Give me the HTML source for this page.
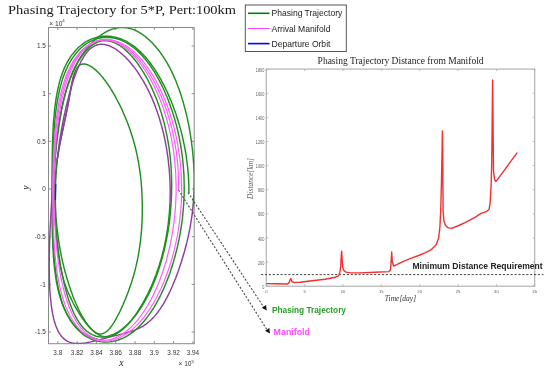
<!DOCTYPE html>
<html><head><meta charset="utf-8"><title>Phasing Trajectory</title>
<style>html,body{margin:0;padding:0;background:#fff;width:550px;height:374px;overflow:hidden}svg{display:block}</style>
</head><body>
<svg width="550" height="374" viewBox="0 0 550 374">
<rect width="550" height="374" fill="#fff"/>
<text x="8" y="13.5" font-family="Liberation Serif, serif" font-size="13.3" fill="#1a1a1a" textLength="228" lengthAdjust="spacingAndGlyphs">Phasing Trajectory for 5*P, Pert:100km</text>
<rect x="48.5" y="27.5" width="145.7" height="316.2" fill="none" stroke="#8a8a8a" stroke-width="1"/>
<path d="M57.8 343.7v-2.5M57.8 27.5v2.5M77.1 343.7v-2.5M77.1 27.5v2.5M96.4 343.7v-2.5M96.4 27.5v2.5M115.7 343.7v-2.5M115.7 27.5v2.5M135.0 343.7v-2.5M135.0 27.5v2.5M154.3 343.7v-2.5M154.3 27.5v2.5M173.6 343.7v-2.5M173.6 27.5v2.5M192.9 343.7v-2.5M192.9 27.5v2.5M48.5 46.0h2.5M194.2 46.0h-2.5M48.5 93.7h2.5M194.2 93.7h-2.5M48.5 141.3h2.5M194.2 141.3h-2.5M48.5 189.0h2.5M194.2 189.0h-2.5M48.5 236.7h2.5M194.2 236.7h-2.5M48.5 284.4h2.5M194.2 284.4h-2.5M48.5 332.0h2.5M194.2 332.0h-2.5" stroke="#8a8a8a" stroke-width="1" fill="none"/>
<g font-family="Liberation Sans, sans-serif" font-size="6.4" fill="#333"><text x="57.8" y="354.6" text-anchor="middle">3.8</text><text x="77.1" y="354.6" text-anchor="middle">3.82</text><text x="96.4" y="354.6" text-anchor="middle">3.84</text><text x="115.7" y="354.6" text-anchor="middle">3.86</text><text x="135.0" y="354.6" text-anchor="middle">3.88</text><text x="154.3" y="354.6" text-anchor="middle">3.9</text><text x="173.6" y="354.6" text-anchor="middle">3.92</text><text x="192.9" y="354.6" text-anchor="middle">3.94</text><text x="45.8" y="48.4" text-anchor="end">1.5</text><text x="45.8" y="96.1" text-anchor="end">1</text><text x="45.8" y="143.7" text-anchor="end">0.5</text><text x="45.8" y="191.4" text-anchor="end">0</text><text x="45.8" y="239.1" text-anchor="end">-0.5</text><text x="45.8" y="286.8" text-anchor="end">-1</text><text x="45.8" y="334.4" text-anchor="end">-1.5</text></g>
<g font-family="Liberation Sans, sans-serif" fill="#333"><text x="49.3" y="25.6" font-size="6.6">× 10</text><text x="62.2" y="22.4" font-size="4.4">4</text><text x="178.5" y="366" font-size="6.6">× 10</text><text x="191.4" y="362.8" font-size="4.4">5</text></g>
<text x="121.5" y="365.5" font-family="Liberation Serif, serif" font-style="italic" font-size="9.8" fill="#222" text-anchor="middle">x</text>
<text transform="translate(29.2 187.5) rotate(-90)" font-family="Liberation Serif, serif" font-style="italic" font-size="9.8" fill="#222" text-anchor="middle">y</text>
<clipPath id="lclip"><rect x="48.5" y="27.5" width="145.7" height="316.2"/></clipPath>
<g fill="none" stroke-linejoin="round" stroke-linecap="round" clip-path="url(#lclip)">
<path d="M54.5 164.9 54.8 161.9 55.1 158.8 55.4 155.8 55.7 152.7 56.0 149.7 56.3 146.7 56.7 143.6 57.0 140.6 57.4 137.7 57.8 134.7 58.2 131.8 58.6 128.9 59.0 126.0 59.4 123.1 59.8 120.3 60.3 117.5 60.8 114.8 61.2 112.1 61.7 109.4 62.2 106.8 62.8 104.3 63.3 101.8 63.9 99.3 64.5 96.9 65.1 94.5 65.7 92.2 66.3 89.9 67.0 87.6 67.6 85.5 68.3 83.3 69.1 81.2 69.8 79.2 70.5 77.2 71.3 75.2 72.1 73.3 72.9 71.4 73.8 69.6 74.7 67.7 75.5 66.0 76.5 64.2 77.4 62.5 78.3 60.9 79.3 59.2 80.3 57.6 81.4 56.0 82.4 54.5 83.5 52.9 84.6 51.5 85.7 50.0 86.8 48.6 88.0 47.2 89.2 45.8 90.4 44.5 91.6 43.2 92.8 41.9 94.1 40.7 95.4 39.5 96.7 38.4 98.0 37.3 99.3 36.3 100.6 35.3 102.0 34.3 103.3 33.5 104.7 32.6 106.1 31.8 107.4 31.1 108.8 30.5 110.2 29.9 111.6 29.3 113.1 28.9 114.5 28.5 115.9 28.1 117.3 27.9 118.7 27.7 120.1 27.5 121.6 27.5 123.0 27.5 124.4 27.5 125.8 27.7 127.2 27.9 128.6 28.2 130.0 28.5 131.4 28.9 132.8 29.4 134.2 29.9 135.5 30.5 136.9 31.2 138.3 31.9 139.6 32.7 141.0 33.5 142.3 34.4 143.6 35.3 144.9 36.3 146.2 37.4 147.5 38.5 148.8 39.6 150.1 40.8 151.4 42.0 152.6 43.3 153.9 44.7 155.1 46.0 156.3 47.5 157.6 49.0 158.8 50.5 160.0 52.1 161.2 53.7 162.3 55.4 163.5 57.1 164.6 58.9 165.8 60.8 166.9 62.7 168.0 64.6 169.1 66.7 170.2 68.7 171.3 70.9 172.4 73.1 173.4 75.3 174.4 77.6 175.5 80.0 176.5 82.5 177.4 85.0 178.4 87.5 179.3 90.1 180.3 92.8 181.2 95.6 182.0 98.4 182.9 101.2 183.7 104.1 184.5 107.1 185.3 110.1 186.1 113.1 186.8 116.2 187.5 119.3 188.2 122.5 188.8 125.7 189.4 129.0 190.0 132.2 190.5 135.5 191.0 138.8 191.5 142.1 191.9 145.5 192.3 148.8 192.7 152.2 193.0 155.5 193.3 158.9 193.5 162.3 193.8 165.6 193.9 169.0 194.1 172.3 194.2 175.6 194.2 178.9 194.2 182.3 194.2 185.5 194.1 188.8 194.0 192.1 193.8 195.3 193.7 198.5 193.4 201.7 193.2 204.9" stroke="#1f901f" stroke-width="1.45"/>
<path d="M193.2 204.9 192.8 208.1 192.5 211.4 192.1 214.6 191.6 217.8 191.1 221.0 190.6 224.1 190.1 227.3 189.5 230.4 188.9 233.5 188.2 236.6 187.5 239.7 186.8 242.7 186.0 245.8 185.2 248.8 184.4 251.8 183.5 254.8 182.6 257.7 181.7 260.7 180.8 263.6 179.8 266.5 178.9 269.3 177.9 272.1 176.8 274.9 175.8 277.7 174.7 280.4 173.6 283.0 172.5 285.7 171.4 288.2 170.3 290.7 169.1 293.2 167.9 295.6 166.8 297.9 165.5 300.1 164.3 302.3 163.1 304.4 161.8 306.4 160.6 308.4 159.3 310.2 158.0 312.0 156.7 313.7 155.3 315.4 154.0 316.9 152.6 318.3 151.2 319.7 149.8 321.0 148.4 322.2 147.0 323.4 145.5 324.4 144.1 325.4 142.6 326.3 141.0 327.2 139.5 328.0 138.0 328.7 136.4 329.4 134.8 330.1 133.2 330.7 131.5 331.2 129.9 331.8 128.2 332.3 126.5 332.8 124.8 333.2 123.1 333.7 121.3 334.2 119.6 334.6 117.8 335.1 116.0 335.5 114.2 335.9 112.4 336.4 110.6 336.8 108.7 337.3 106.9 337.8 105.0 338.2 103.2 338.7 101.4 339.2 99.5 339.7 97.7 340.1 95.8 340.6 94.0 341.0 92.2 341.5 90.4 341.9 88.6 342.2 86.9 342.6 85.1 342.9 83.4 343.1 81.7 343.3 80.1 343.4 78.5 343.5 76.9 343.5 75.3 343.4 73.8 343.2 72.3 343.0 70.9 342.6 69.5 342.2 68.1 341.6 66.8 340.9 65.6 340.1 64.3 339.2 63.2 338.1 62.1 337.0 61.0 335.7 60.0 334.3 59.0 332.7 58.1 331.1 57.3 329.3 56.5 327.4 55.7 325.4 55.0 323.2 54.3 321.0 53.7 318.7 53.2 316.2 52.6 313.7 52.2 311.0 51.7 308.3 51.3 305.6 51.0 302.7 50.7 299.8 50.4 296.8 50.1 293.8 49.9 290.7 49.7 287.6 49.6 284.4 49.5 281.3 49.4 278.1 49.3 274.9 49.3 271.7 49.2 268.4 49.2 265.2 49.2 262.0 49.3 258.8 49.3 255.6 49.4 252.4 49.4 249.2 49.5 246.0 49.6 242.8 49.7 239.6 49.8 236.5 50.0 233.4 50.1 230.2 50.2 227.1 50.4 224.0 50.6 220.9 50.7 217.8 50.9 214.7 51.1 211.6 51.2 208.6 51.4 205.5 51.6 202.4 51.8 199.3 52.0 196.2 52.2 193.1 52.5 190.0 52.7 186.9 52.9 183.8 53.2 180.7 53.4 177.5 53.7 174.4 53.9 171.2 54.2 168.1 54.5 164.9" stroke="#8e3f9e" stroke-width="1.45"/>
<path d="M52.6 187.1 52.6 190.9 52.6 194.7 52.6 198.6 52.6 202.4 52.6 206.2 52.6 210.0 52.7 213.8 52.7 217.6 52.8 221.4 52.8 225.1 52.9 228.9 53.0 232.6 53.1 236.2 53.2 239.9 53.4 243.5 53.6 247.1 53.8 250.6 54.0 254.1 54.2 257.6 54.5 261.0 54.8 264.4 55.2 267.8 55.6 271.0 56.0 274.3 56.4 277.5 56.9 280.6 57.5 283.7 58.0 286.7 58.7 289.6 59.3 292.5 60.1 295.3 60.8 298.1 61.6 300.8 62.5 303.4 63.4 305.9 64.4 308.4 65.4 310.7 66.5 313.1 67.6 315.3 68.7 317.4 69.9 319.5 71.2 321.5 72.5 323.3 73.9 325.1 75.2 326.9 76.7 328.5 78.2 330.0 79.7 331.5 81.2 332.8 82.8 334.1 84.4 335.3 86.1 336.4 87.7 337.3 89.5 338.2 91.2 339.0 92.9 339.7 94.7 340.4 96.5 340.9 98.3 341.3 100.1 341.6 101.9 341.9 103.7 342.0 105.6 342.1 107.4 342.1 109.2 341.9 111.1 341.7 112.9 341.4 114.7 341.0 116.5 340.6 118.3 340.0 120.1 339.3 121.9 338.6 123.7 337.8 125.5 336.9 127.2 335.9 128.9 334.8 130.7 333.7 132.4 332.4 134.0 331.1 135.7 329.7 137.3 328.2 139.0 326.7 140.6 325.1 142.1 323.4 143.7 321.6 145.2 319.8 146.7 317.9 148.2 315.9 149.7 313.8 151.2 311.7 152.6 309.5 154.0 307.3 155.4 304.9 156.7 302.6 158.1 300.1 159.4 297.6 160.7 295.0 161.9 292.4 163.2 289.7 164.4 287.0 165.6 284.1 166.7 281.3 167.9 278.4 169.0 275.4 170.1 272.4 171.1 269.3 172.1 266.2 173.1 263.0 174.0 259.8 175.0 256.5 175.8 253.2 176.7 249.9 177.5 246.5 178.2 243.1 179.0 239.7 179.6 236.2 180.3 232.7 180.9 229.1 181.4 225.6 181.9 222.0 182.4 218.4 182.8 214.7 183.1 211.1 183.4 207.4 183.7 203.7 183.9 200.1 184.1 196.4 184.2 192.7 184.2 189.0 184.2 185.3 184.1 181.6 184.0 177.9 183.9 174.2 183.6 170.5 183.4 166.9 183.0 163.2 182.7 159.6 182.2 156.0 181.8 152.4 181.2 148.9 180.7 145.4 180.0 141.9 179.4 138.4 178.7 135.0 177.9 131.6 177.1 128.2 176.3 124.9 175.4 121.7 174.5 118.4 173.5 115.3 172.5 112.1 171.5 109.0 170.4 106.0 169.3 103.0 168.2 100.1 167.1 97.3 165.9 94.5 164.7 91.7 163.5 89.0 162.2 86.4 161.0 83.8 159.7 81.3 158.3 78.8 157.0 76.5 155.7 74.1 154.3 71.9 152.9 69.7 151.5 67.6 150.1 65.5 148.6 63.5 147.2 61.6 145.7 59.8 144.2 58.0 142.7 56.3 141.2 54.6 139.7 53.1 138.1 51.6 136.6 50.1 135.0 48.8 133.4 47.5 131.8 46.3 130.2 45.1 128.6 44.1 127.0 43.1 125.3 42.2 123.7 41.4 122.0 40.6 120.4 39.9 118.7 39.3 117.0 38.8 115.3 38.4 113.6 38.0 111.9 37.7 110.2 37.5 108.5 37.4 106.8 37.4 105.1 37.4 103.3 37.5 101.6 37.7 99.9 38.0 98.3 38.4 96.6 38.9 94.9 39.4 93.2 40.1 91.6 40.8 90.0 41.6 88.3 42.5 86.8 43.5 85.2 44.6 83.6 45.7 82.1 47.0 80.6 48.3 79.2 49.7 77.8 51.3 76.4 52.8 75.0 54.5 73.7 56.3 72.4 58.1 71.2 60.0 70.0 62.1 68.8 64.1 67.7 66.3 66.7 68.6 65.6 70.9 64.7 73.3 63.7 75.8 62.8 78.3 62.0 80.9 61.2 83.6 60.4 86.4 59.7 89.2 59.1 92.1 58.5 95.1 57.9 98.1 57.3 101.2 56.8 104.3 56.4 107.5 55.9 110.7 55.6 114.0 55.2 117.4 54.9 120.7 54.6 124.2 54.3 127.7 54.1 131.2 53.9 134.7 53.7 138.3 53.5 141.9 53.4 145.6 53.2 149.3 53.1 153.0 53.0 156.7 52.9 160.4 52.8 164.2 52.8 168.0 52.7 171.8 52.7 175.6 52.6 179.4 52.6 183.3 52.6 187.1Z" stroke="#1f901f" stroke-width="1.45"/>
<path d="M54.3 186.4 54.3 190.0 54.3 193.6 54.4 197.2 54.5 200.8 54.6 204.4 54.8 208.0 54.9 211.6 55.1 215.2 55.3 218.7 55.6 222.3 55.8 225.8 56.1 229.3 56.4 232.8 56.8 236.3 57.1 239.8 57.5 243.2 57.9 246.6 58.3 250.0 58.7 253.3 59.2 256.6 59.7 259.9 60.2 263.2 60.7 266.4 61.3 269.5 61.9 272.6 62.5 275.7 63.1 278.7 63.7 281.6 64.4 284.5 65.1 287.4 65.8 290.2 66.6 292.9 67.3 295.5 68.1 298.1 68.9 300.7 69.8 303.1 70.7 305.5 71.6 307.8 72.5 310.0 73.4 312.2 74.4 314.2 75.4 316.2 76.5 318.1 77.5 319.9 78.6 321.7 79.7 323.3 80.8 324.8 82.0 326.3 83.2 327.7 84.4 328.9 85.6 330.1 86.9 331.2 88.2 332.2 89.5 333.1 90.8 333.9 92.1 334.6 93.5 335.2 94.9 335.8 96.2 336.2 97.7 336.5 99.1 336.8 100.5 336.9 102.0 336.9 103.4 336.9 104.9 336.8 106.4 336.5 107.9 336.2 109.4 335.8 110.9 335.3 112.4 334.8 113.9 334.1 115.4 333.3 117.0 332.5 118.5 331.6 120.0 330.6 121.5 329.5 123.0 328.3 124.5 327.1 126.0 325.8 127.5 324.4 129.0 322.9 130.4 321.4 131.9 319.8 133.3 318.1 134.8 316.3 136.2 314.5 137.6 312.6 139.0 310.6 140.3 308.6 141.7 306.5 143.0 304.4 144.3 302.1 145.6 299.9 146.9 297.5 148.1 295.1 149.4 292.6 150.6 290.1 151.7 287.5 152.9 284.9 154.0 282.2 155.1 279.5 156.2 276.7 157.2 273.8 158.2 270.9 159.2 268.0 160.1 265.0 161.0 262.0 161.9 258.9 162.8 255.8 163.6 252.6 164.4 249.4 165.1 246.2 165.8 242.9 166.5 239.6 167.1 236.3 167.7 232.9 168.3 229.5 168.8 226.1 169.3 222.6 169.7 219.1 170.1 215.6 170.4 212.1 170.7 208.6 171.0 205.1 171.2 201.5 171.4 198.0 171.5 194.4 171.6 190.9 171.7 187.3 171.7 183.7 171.6 180.2 171.5 176.6 171.4 173.1 171.2 169.6 171.0 166.0 170.7 162.5 170.4 159.1 170.0 155.6 169.6 152.2 169.2 148.7 168.7 145.4 168.1 142.0 167.5 138.7 166.9 135.4 166.2 132.1 165.5 128.9 164.8 125.7 164.0 122.6 163.2 119.5 162.3 116.4 161.4 113.4 160.5 110.5 159.6 107.6 158.6 104.7 157.6 101.9 156.5 99.1 155.4 96.4 154.3 93.8 153.2 91.2 152.1 88.6 150.9 86.1 149.7 83.7 148.5 81.3 147.3 79.0 146.0 76.7 144.8 74.6 143.5 72.4 142.2 70.3 140.9 68.3 139.6 66.4 138.3 64.5 137.0 62.7 135.7 60.9 134.3 59.3 133.0 57.6 131.6 56.1 130.3 54.6 128.9 53.2 127.6 51.9 126.2 50.6 124.9 49.4 123.5 48.3 122.2 47.2 120.8 46.3 119.5 45.3 118.1 44.5 116.8 43.8 115.4 43.1 114.1 42.5 112.8 42.0 111.4 41.6 110.1 41.2 108.8 41.0 107.4 40.8 106.1 40.7 104.8 40.7 103.5 40.7 102.2 40.9 100.9 41.1 99.6 41.5 98.3 41.9 97.1 42.4 95.8 43.0 94.5 43.7 93.3 44.4 92.0 45.3 90.8 46.2 89.6 47.3 88.4 48.4 87.2 49.6 86.0 50.9 84.8 52.3 83.6 53.7 82.4 55.3 81.3 56.9 80.2 58.6 79.0 60.4 77.9 62.3 76.9 64.3 75.8 66.3 74.7 68.4 73.7 70.6 72.7 72.8 71.7 75.2 70.7 77.6 69.8 80.0 68.9 82.6 68.0 85.2 67.1 87.8 66.2 90.5 65.4 93.3 64.6 96.1 63.9 99.0 63.1 102.0 62.4 104.9 61.7 108.0 61.1 111.1 60.4 114.2 59.8 117.3 59.3 120.5 58.7 123.8 58.2 127.1 57.8 130.4 57.3 133.7 56.9 137.1 56.5 140.5 56.2 143.9 55.9 147.4 55.6 150.8 55.3 154.3 55.1 157.8 54.9 161.4 54.7 164.9 54.6 168.5 54.4 172.0 54.4 175.6 54.3 179.2 54.3 182.8 54.3 186.4Z" stroke="#1f901f" stroke-width="1.45"/>
<path d="M97.0 339.0 94.8 338.5 92.6 337.8 90.5 337.0 88.3 336.0 86.3 334.9 84.3 333.7 82.3 332.4 80.3 330.9 78.5 329.3 76.6 327.5 74.9 325.6 73.2 323.6 71.5 321.5 70.0 319.3 68.5 316.9 67.0 314.4 65.7 311.8 64.4 309.0 63.2 306.2 62.0 303.2 61.0 300.1 60.0 297.0 59.1 293.7 58.2 290.3 57.5 286.9 56.7 283.3 56.1 279.7 55.5 275.9 55.0 272.1 54.5 268.2 54.1 264.3 53.7 260.3 53.4 256.2 53.2 252.0 52.9 247.8 52.7 243.6 52.6 239.3 52.4 234.9 52.3 230.5 52.2 226.1 52.1 221.6 52.1 217.1 52.0 212.6 52.0 208.1 52.0 203.5 52.0 198.9 52.0 194.3 52.0 189.8 52.0 185.2 52.0 180.6 52.0 176.0 52.1 171.5 52.1 166.9 52.2 162.4 52.2 157.9 52.3 153.4 52.4 149.0 52.5 144.6 52.6 140.2 52.8 135.9 53.0 131.6 53.2 127.4 53.4 123.2 53.7 119.1 54.1 115.0 54.5 111.0 54.9 107.1 55.4 103.3 55.9 99.6 56.5 95.9 57.2 92.3 57.9 88.8 58.7 85.4 59.5 82.1 60.4 78.9 61.4 75.8 62.5 72.8 63.6 69.9 64.8 67.1 66.1 64.5 67.4 61.9 68.9 59.5 70.3 57.1 71.9 54.9 73.5 52.9 75.1 50.9 76.9 49.1 78.6 47.3 80.5 45.7 82.3 44.3 84.2 42.9 86.2 41.7 88.2 40.6 90.2 39.6 92.2 38.8 94.3 38.1 96.4 37.4 98.5 37.0 100.6 36.6 102.8 36.3 104.9 36.2 107.0 36.2 109.1 36.3 111.3 36.5 113.4 36.9 115.5 37.3 117.6 37.9 119.7 38.5 121.8 39.3 123.8 40.2 125.9 41.2 127.9 42.3 129.9 43.5 131.9 44.8 133.8 46.2 135.8 47.7 137.7 49.3 139.6 51.1 141.5 52.9 143.3 54.8 145.2 56.8 147.0 58.9 148.8 61.1 150.6 63.5 152.3 65.9 154.1 68.4 155.8 71.0 157.5 73.7 159.1 76.5 160.8 79.3 162.4 82.3 164.0 85.4 165.5 88.5 167.1 91.8 168.6 95.1 170.0 98.5 171.5 102.0 172.9 105.5 174.2 109.2 175.6 112.9 176.8 116.7 178.0 120.5 179.2 124.4 180.3 128.4 181.4 132.4 182.4 136.5 183.3 140.6 184.2 144.8 185.0 149.1 185.8 153.3 186.4 157.6 187.0 162.0 187.5 166.3 188.0 170.7 188.3 175.1 188.6 179.5 188.8 183.9 188.9 188.3 188.9 192.7" stroke="#1f901f" stroke-width="1.45"/>
<path d="M54.9 190.5 54.9 193.4 54.8 196.2 54.8 199.1 54.9 202.0 54.9 204.9 55.0 207.8 55.0 210.8 55.1 213.7 55.2 216.6 55.4 219.6 55.5 222.5 55.7 225.4 55.8 228.3 56.0 231.2 56.2 234.1 56.4 237.0 56.7 239.8 56.9 242.7 57.2 245.5 57.5 248.2 57.8 251.0 58.2 253.7 58.5 256.4 58.9 259.0 59.4 261.6 59.8 264.2 60.4 266.8 60.9 269.3 61.5 271.8 62.1 274.2 62.7 276.6 63.4 279.0 64.1 281.4 64.9 283.7 65.7 286.0 66.5 288.2 67.4 290.5 68.3 292.7 69.3 294.9 70.3 297.0 71.3 299.1 72.3 301.2 73.3 303.3 74.4 305.3 75.5 307.3 76.6 309.2 77.8 311.1 78.9 313.0 80.1 314.8 81.2 316.6 82.4 318.3 83.5 319.9 84.7 321.5 85.8 323.0 86.9 324.5 88.1 325.8 89.2 327.1 90.3 328.3 91.4 329.3 92.5 330.3 93.6 331.2 94.6 331.9 95.7 332.6 96.7 333.1 97.8 333.5 98.8 333.8 99.8 333.9 100.8 333.9 101.8 333.8 102.8 333.6 103.8 333.2 104.8 332.7 105.8 332.0 106.8 331.3 107.8 330.4 108.8 329.4 109.8 328.2 110.8 327.0 111.8 325.6 112.8 324.1 113.9 322.6 114.9 320.9 115.9 319.1 116.9 317.3 117.9 315.3 119.0 313.3 120.0 311.3 121.0 309.1 122.0 306.9 123.0 304.7 124.0 302.3 125.0 300.0 126.0 297.6 127.0 295.1 127.9 292.7 128.8 290.2 129.7 287.6 130.6 285.1 131.5 282.5 132.3 279.8 133.1 277.2 133.9 274.5 134.6 271.8 135.3 269.1 136.0 266.4 136.6 263.6 137.2 260.9 137.8 258.1 138.3 255.3 138.8 252.4 139.3 249.5 139.7 246.7 140.1 243.7 140.5 240.8 140.8 237.9 141.1 234.9 141.4 231.9 141.6 228.9 141.8 225.8 142.0 222.8 142.1 219.7 142.2 216.6 142.3 213.5 142.3 210.5 142.3 207.4 142.3 204.3 142.2 201.2 142.1 198.1 142.0 195.0 141.8 191.9 141.7 188.8 141.4 185.8 141.2 182.7 140.9 179.7 140.6 176.7 140.2 173.7 139.8 170.8 139.4 167.9 138.9 165.0 138.5 162.2 137.9 159.4 137.4 156.6 136.8 153.8 136.2 151.1 135.6 148.5 134.9 145.8 134.2 143.2 133.5 140.7 132.8 138.2 132.0 135.7 131.2 133.2 130.4 130.8 129.6 128.4 128.7 126.1 127.9 123.7 127.0 121.4 126.1 119.2 125.1 116.9 124.2 114.7 123.2 112.6 122.3 110.4 121.3 108.3 120.3 106.2 119.3 104.1 118.2 102.1 117.2 100.0 116.1 98.1 115.1 96.1 114.0 94.2 112.9 92.3 111.8 90.5 110.6 88.7 109.5 86.9 108.4 85.2 107.2 83.5 106.1 81.9 104.9 80.3 103.7 78.8 102.6 77.3 101.4 75.9 100.2 74.5 99.0 73.3 97.8 72.1 96.7 70.9 95.5 69.9 94.3 68.9 93.2 68.0 92.1 67.2 90.9 66.5 89.8 65.8 88.8 65.3 87.7 64.8 86.7 64.5 85.7 64.2 84.7 64.0 83.8 64.0 82.9 64.0 82.0 64.2 81.2 64.4 80.4 64.7 79.6 65.2 78.9 65.7 78.2 66.4 77.6 67.2 77.0 68.0 76.4 69.0 75.8 70.0 75.3 71.2 74.8 72.4 74.3 73.8 73.9 75.2 73.5 76.7 73.1 78.3 72.7 80.0 72.3 81.7 71.9 83.5 71.5 85.4 71.1 87.4 70.8 89.4 70.4 91.5 70.0 93.6 69.6 95.8 69.2 98.0 68.8 100.3 68.4 102.6 67.9 104.9 67.5 107.3 67.0 109.7 66.5 112.1 66.0 114.5 65.5 117.0 65.0 119.4 64.5 121.9 63.9 124.4 63.4 126.9 62.9 129.5 62.3 132.0 61.8 134.5 61.2 137.1 60.7 139.6 60.2 142.2 59.7 144.7 59.2 147.3 58.8 149.9 58.3 152.5 57.9 155.1 57.5 157.7 57.1 160.4 56.8 163.0 56.5 165.7 56.2 168.4 55.9 171.1 55.7 173.8 55.5 176.5 55.3 179.3 55.2 182.0 55.0 184.8 55.0 187.7 54.9 190.5Z" stroke="#1f901f" stroke-width="1.45"/>
<path d="M57.2 160.0 57.4 158.3 57.7 156.6 57.9 154.9 58.2 153.3 58.5 151.6 58.8 149.9 59.1 148.3 59.4 146.6 59.7 145.0 60.0 143.4 60.3 141.7 60.6 140.1 61.0 138.5 61.3 136.8 61.6 135.2 62.0 133.6 62.3 132.0 62.7 130.4 63.0 128.7 63.4 127.1 63.7 125.5 64.0 123.9 64.4 122.3 64.7 120.7 65.1 119.2 65.4 117.6 65.7 116.0 66.0 114.4 66.4 112.9 66.7 111.3 67.0 109.8 67.3 108.3 67.6 106.7 67.9 105.2 68.1 103.7 68.4 102.2 68.7 100.8 69.0 99.3 69.2 97.9 69.5 96.4 69.7 95.0 70.0 93.7 70.2 92.3 70.5 90.9 70.7 89.6 71.0 88.3 71.2 87.0 71.4 85.8 71.7 84.6 71.9 83.4 72.2 82.2 72.4 81.1 72.7 80.0 72.9 78.9 73.2 77.8 73.4 76.8 73.7 75.8 74.0 74.9 74.3 74.0" stroke="#8e3f9e" stroke-width="1.45"/>
<path d="M54.0 187.5 54.0 191.2 54.0 194.9 54.1 198.6 54.1 202.2 54.2 205.9 54.3 209.6 54.4 213.2 54.5 216.8 54.7 220.5 54.9 224.1 55.1 227.7 55.3 231.2 55.5 234.8 55.8 238.3 56.1 241.8 56.4 245.3 56.8 248.8 57.1 252.2 57.5 255.6 58.0 258.9 58.4 262.2 58.9 265.5 59.4 268.7 59.9 271.9 60.5 275.0 61.1 278.1 61.7 281.2 62.4 284.2 63.1 287.1 63.8 290.0 64.5 292.8 65.3 295.5 66.1 298.2 67.0 300.8 67.9 303.3 68.8 305.8 69.7 308.2 70.7 310.5 71.7 312.8 72.8 315.0 73.8 317.0 74.9 319.0 76.1 321.0 77.2 322.8 78.4 324.5 79.7 326.2 80.9 327.8 82.2 329.2 83.5 330.6 84.8 331.9 86.2 333.1 87.5 334.2 88.9 335.2 90.3 336.1 91.8 337.0 93.2 337.7 94.7 338.3 96.2 338.9 97.7 339.3 99.2 339.7 100.7 339.9 102.2 340.1 103.8 340.1 105.3 340.1 106.9 340.0 108.5 339.8 110.0 339.5 111.6 339.1 113.2 338.6 114.7 338.1 116.3 337.4 117.9 336.7 119.4 335.9 121.0 335.0 122.6 334.0 124.1 332.9 125.7 331.8 127.2 330.5 128.7 329.2 130.3 327.9 131.8 326.4 133.3 324.9 134.8 323.3 136.2 321.6 137.7 319.9 139.1 318.0 140.6 316.1 142.0 314.2 143.4 312.2 144.8 310.1 146.1 307.9 147.5 305.7 148.8 303.4 150.1 301.1 151.4 298.7 152.7 296.2 153.9 293.7 155.1 291.1 156.3 288.5 157.5 285.8 158.6 283.0 159.7 280.2 160.8 277.3 161.9 274.4 162.9 271.5 163.9 268.5 164.8 265.4 165.8 262.3 166.7 259.1 167.5 256.0 168.3 252.7 169.1 249.4 169.9 246.1 170.6 242.8 171.3 239.4 171.9 236.0 172.5 232.5 173.0 229.1 173.5 225.6 174.0 222.0 174.4 218.5 174.8 214.9 175.1 211.4 175.4 207.8 175.6 204.2 175.8 200.5 176.0 196.9 176.1 193.3 176.1 189.7 176.1 186.0 176.0 182.4 175.9 178.8 175.8 175.2 175.6 171.6 175.3 168.0 175.0 164.4 174.7 160.9 174.3 157.3 173.9 153.8 173.4 150.3 172.8 146.9 172.3 143.4 171.7 140.1 171.0 136.7 170.3 133.4 169.5 130.1 168.8 126.8 167.9 123.6 167.1 120.5 166.2 117.4 165.2 114.3 164.3 111.3 163.3 108.3 162.2 105.4 161.2 102.5 160.1 99.7 159.0 96.9 157.8 94.2 156.6 91.6 155.4 89.0 154.2 86.5 153.0 84.0 151.7 81.6 150.4 79.2 149.1 76.9 147.8 74.7 146.5 72.5 145.1 70.4 143.7 68.4 142.4 66.4 141.0 64.5 139.6 62.6 138.2 60.9 136.7 59.1 135.3 57.5 133.9 55.9 132.4 54.4 131.0 53.0 129.5 51.6 128.0 50.3 126.6 49.1 125.1 47.9 123.6 46.9 122.1 45.8 120.6 44.9 119.2 44.1 117.7 43.3 116.2 42.6 114.7 42.0 113.2 41.4 111.8 41.0 110.3 40.6 108.8 40.3 107.4 40.1 105.9 40.0 104.4 39.9 103.0 40.0 101.6 40.1 100.1 40.3 98.7 40.6 97.3 41.0 95.9 41.5 94.5 42.0 93.1 42.7 91.7 43.4 90.4 44.3 89.1 45.2 87.7 46.2 86.4 47.3 85.2 48.5 83.9 49.8 82.6 51.1 81.4 52.6 80.2 54.1 79.0 55.8 77.9 57.5 76.7 59.3 75.6 61.2 74.5 63.1 73.5 65.2 72.5 67.3 71.5 69.5 70.5 71.8 69.5 74.1 68.6 76.5 67.7 79.0 66.9 81.6 66.0 84.2 65.2 86.9 64.4 89.7 63.7 92.5 63.0 95.4 62.3 98.3 61.7 101.3 61.0 104.3 60.4 107.4 59.9 110.6 59.3 113.8 58.8 117.0 58.3 120.3 57.9 123.6 57.5 126.9 57.1 130.3 56.7 133.7 56.4 137.2 56.0 140.6 55.7 144.1 55.5 147.7 55.2 151.2 55.0 154.8 54.8 158.4 54.6 162.0 54.5 165.6 54.4 169.2 54.2 172.9 54.2 176.5 54.1 180.2 54.0 183.9 54.0 187.5Z" stroke="#ff5cff" stroke-width="1.2"/>
<path d="M52.8 187.4 52.7 191.1 52.7 194.9 52.7 198.6 52.8 202.3 52.8 206.1 52.9 209.8 52.9 213.5 53.0 217.2 53.1 220.9 53.2 224.5 53.3 228.2 53.5 231.8 53.7 235.4 53.9 239.0 54.1 242.6 54.3 246.1 54.6 249.6 54.9 253.1 55.2 256.5 55.5 259.9 55.9 263.2 56.3 266.6 56.8 269.8 57.2 273.0 57.8 276.2 58.3 279.3 58.9 282.4 59.5 285.4 60.2 288.3 60.9 291.2 61.6 294.0 62.4 296.8 63.2 299.5 64.1 302.1 65.0 304.6 66.0 307.1 66.9 309.5 68.0 311.8 69.1 314.1 70.2 316.2 71.3 318.3 72.5 320.3 73.8 322.2 75.0 324.0 76.4 325.7 77.7 327.4 79.1 328.9 80.5 330.4 81.9 331.8 83.4 333.0 84.9 334.2 86.5 335.3 88.0 336.3 89.6 337.2 91.2 338.0 92.8 338.7 94.5 339.4 96.1 339.9 97.8 340.3 99.5 340.6 101.2 340.9 102.9 341.0 104.6 341.1 106.3 341.0 108.0 340.9 109.7 340.7 111.5 340.4 113.2 340.0 114.9 339.5 116.6 338.9 118.3 338.3 120.0 337.5 121.7 336.7 123.4 335.8 125.1 334.8 126.8 333.7 128.4 332.5 130.1 331.3 131.7 330.0 133.3 328.6 134.9 327.1 136.5 325.6 138.1 324.0 139.7 322.3 141.2 320.5 142.7 318.7 144.2 316.8 145.7 314.8 147.2 312.8 148.7 310.7 150.1 308.5 151.5 306.3 152.9 304.0 154.3 301.6 155.6 299.2 156.9 296.7 158.2 294.2 159.5 291.6 160.8 288.9 162.0 286.2 163.2 283.4 164.4 280.6 165.5 277.7 166.6 274.8 167.7 271.8 168.8 268.7 169.8 265.7 170.8 262.5 171.7 259.3 172.6 256.1 173.5 252.9 174.3 249.6 175.1 246.2 175.9 242.8 176.6 239.4 177.3 236.0 177.9 232.5 178.5 229.0 179.0 225.5 179.5 221.9 179.9 218.3 180.3 214.7 180.7 211.1 180.9 207.5 181.2 203.9 181.4 200.2 181.5 196.6 181.6 192.9 181.6 189.2 181.6 185.6 181.5 181.9 181.4 178.3 181.2 174.6 181.0 171.0 180.7 167.4 180.4 163.8 180.0 160.2 179.6 156.6 179.1 153.1 178.5 149.6 178.0 146.1 177.3 142.6 176.7 139.2 176.0 135.8 175.2 132.5 174.4 129.2 173.6 125.9 172.7 122.7 171.8 119.5 170.8 116.4 169.9 113.3 168.8 110.3 167.8 107.3 166.7 104.4 165.6 101.5 164.5 98.7 163.3 95.9 162.1 93.2 160.9 90.5 159.7 88.0 158.4 85.4 157.1 83.0 155.8 80.5 154.5 78.2 153.2 75.9 151.8 73.7 150.4 71.6 149.1 69.5 147.7 67.4 146.2 65.5 144.8 63.6 143.4 61.8 141.9 60.0 140.5 58.3 139.0 56.7 137.5 55.1 136.0 53.7 134.5 52.2 133.0 50.9 131.4 49.6 129.9 48.4 128.3 47.3 126.8 46.3 125.2 45.3 123.6 44.4 122.1 43.5 120.5 42.8 118.9 42.1 117.3 41.5 115.7 41.0 114.1 40.5 112.5 40.2 110.9 39.9 109.2 39.7 107.6 39.6 106.0 39.5 104.4 39.6 102.8 39.7 101.2 39.9 99.6 40.2 98.0 40.6 96.5 41.1 94.9 41.6 93.4 42.3 91.8 43.0 90.3 43.8 88.8 44.7 87.3 45.7 85.9 46.8 84.4 47.9 83.0 49.2 81.6 50.5 80.2 52.0 78.9 53.5 77.6 55.1 76.3 56.8 75.0 58.5 73.8 60.4 72.6 62.3 71.5 64.3 70.4 66.4 69.3 68.6 68.3 70.8 67.3 73.1 66.3 75.5 65.4 78.0 64.5 80.6 63.6 83.2 62.8 85.8 62.0 88.6 61.3 91.4 60.6 94.3 60.0 97.2 59.3 100.2 58.7 103.2 58.2 106.3 57.7 109.5 57.2 112.7 56.7 115.9 56.3 119.2 55.9 122.5 55.6 125.9 55.2 129.3 54.9 132.8 54.6 136.2 54.4 139.8 54.2 143.3 53.9 146.9 53.7 150.5 53.6 154.1 53.4 157.7 53.3 161.4 53.2 165.1 53.1 168.8 53.0 172.5 52.9 176.2 52.8 179.9 52.8 183.6 52.8 187.4Z" stroke="#ff5cff" stroke-width="1.2"/>
<path d="M54.1 225.1 54.0 221.9 53.9 218.7 53.8 215.4 53.7 212.2 53.6 208.9 53.5 205.6 53.5 202.4 53.4 199.1 53.4 195.8 53.4 192.5 53.4 189.2 53.4 186.0 53.4 182.7 53.5 179.4 53.5 176.1 53.6 172.9 53.7 169.6 53.8 166.3 53.9 163.1 54.0 159.9 54.2 156.7 54.3 153.5 54.5 150.3 54.7 147.1 54.9 144.0 55.1 140.8 55.4 137.7 55.6 134.7 55.9 131.6 56.2 128.6 56.5 125.6 56.9 122.6 57.3 119.6 57.7 116.7 58.1 113.9 58.5 111.0 59.0 108.2 59.5 105.5 60.0 102.7 60.6 100.1 61.1 97.4 61.7 94.8 62.3 92.3 63.0 89.8 63.7 87.3 64.4 84.9 65.1 82.6 65.9 80.3 66.6 78.0 67.4 75.8 68.3 73.7 69.1 71.6 70.0 69.6 71.0 67.6 71.9 65.8 72.9 63.9 73.8 62.1 74.9 60.4 75.9 58.8 76.9 57.2 78.0 55.7 79.1 54.3 80.2 52.9 81.4 51.6 82.5 50.3 83.7 49.2 84.9 48.0 86.1 47.0 87.3 46.0 88.6 45.1 89.8 44.3 91.1 43.6 92.4 42.9 93.6 42.2 94.9 41.7 96.2 41.2 97.6 40.8 98.9 40.4 100.2 40.2 101.5 39.9 102.9 39.8 104.2 39.7 105.6 39.7 106.9 39.8 108.3 39.9 109.6 40.1 111.0 40.3 112.3 40.6 113.7 41.0 115.1 41.4 116.4 41.9 117.8 42.5 119.1 43.1 120.5 43.8 121.8 44.5 123.2 45.3 124.5 46.2 125.9 47.1 127.2 48.1 128.5 49.1 129.9 50.2 131.2 51.3 132.5 52.5 133.8 53.8 135.1 55.1 136.4 56.5 137.7 57.9 139.0 59.3 140.3 60.8 141.5 62.4 142.8 64.0 144.0 65.7 145.3 67.4 146.5 69.2 147.7 71.0 148.9 72.9 150.1 74.8 151.3 76.8 152.5 78.8 153.7 80.9 154.8 83.0 155.9 85.1 157.0 87.3 158.1 89.6 159.2 91.9 160.3 94.2 161.3 96.6 162.3 99.0 163.3 101.5 164.3 104.0 165.2 106.5 166.1 109.1 167.0 111.8 167.9 114.4 168.7 117.1 169.5 119.9 170.3 122.7 171.1 125.5 171.8 128.3 172.5 131.2 173.1 134.1 173.7 137.0 174.3 140.0 174.9 143.0 175.4 146.0 175.9 149.1 176.3 152.1 176.7 155.2 177.1 158.3 177.4 161.4 177.7 164.6 177.9 167.7 178.2 170.9 178.3 174.1 178.4 177.3 178.5 180.5 178.6 183.7 178.6 186.9 178.6 190.1" stroke="#ff5cff" stroke-width="1.2"/>
<path d="M169.9 205.0 169.7 207.9 169.5 210.8 169.3 213.6 169.0 216.5 168.7 219.3 168.4 222.1 168.1 224.9 167.7 227.7 167.3 230.5 166.8 233.3 166.4 236.0 165.9 238.7 165.3 241.4 164.8 244.1 164.2 246.8 163.6 249.4 162.9 252.0 162.3 254.6 161.6 257.2 160.9 259.7 160.1 262.3 159.4 264.7 158.6 267.2 157.8 269.6 156.9 272.0 156.1 274.4 155.2 276.7 154.3 279.0 153.4 281.3 152.5 283.5 151.5 285.7 150.6 287.9 149.6 290.0 148.6 292.1 147.6 294.2 146.6 296.2 145.5 298.2 144.5 300.1 143.4 302.0 142.4 303.9 141.3 305.7 140.2 307.5 139.2 309.2 138.1 310.9 137.0 312.6 135.9 314.2 134.8 315.7 133.7 317.2 132.6 318.7 131.5 320.1 130.4 321.4 129.2 322.7 128.1 324.0 127.0 325.2 125.9 326.3 124.8 327.4 123.7 328.4 122.6 329.4 121.5 330.3 120.4 331.2 119.3 332.0 118.2 332.7 117.2 333.4 116.1 334.0 115.0 334.6 113.9 335.1 112.9 335.5 111.8 335.9 110.7 336.2 109.7 336.4 108.6 336.6 107.6 336.7 106.6 336.7 105.5 336.7 104.5 336.6 103.5 336.4 102.4 336.2 101.4 335.9 100.4 335.5 99.4 335.1 98.4 334.6 97.4 334.0 96.4 333.4 95.4 332.7 94.5 331.9 93.5 331.1 92.5 330.2 91.5 329.2 90.6 328.2 89.6 327.1 88.7 325.9 87.7 324.7 86.8 323.4 85.8 322.1 84.9 320.7 84.0 319.2 83.1 317.7 82.1 316.1 81.2 314.4 80.3 312.8 79.4 311.0 78.5 309.2 77.7 307.4 76.8 305.5 75.9 303.5 75.1 301.5 74.2 299.5 73.4 297.4 72.6 295.2 71.8 293.1 71.0 290.9 70.2 288.6 69.4 286.3 68.7 284.0 67.9 281.6 67.2 279.2 66.5 276.8 65.8 274.3 65.1 271.8 64.4 269.3 63.8 266.8 63.2 264.2 62.6 261.6 62.0 259.0 61.4 256.4 60.9 253.7 60.4 251.0 59.9 248.3 59.4 245.6 59.0 242.9 58.6 240.1 58.2 237.3 57.8 234.6 57.5 231.8 57.1 229.0 56.8 226.1 56.6 223.3 56.3 220.5 56.1 217.6 55.9 214.8 55.8 211.9 55.6 209.1 55.5 206.2 55.4 203.3 55.4 200.4 55.4 197.5 55.4 194.7 55.4 191.8 55.4 188.9 55.5 186.0 55.6 183.1 55.7 180.2 55.9 177.3 56.0 174.5 56.2 171.6 56.5 168.7 56.7 165.8 57.0 163.0 57.2 160.1" stroke="#1f901f" stroke-width="1.45"/>
<path d="M57.2 160.1 57.5 157.4 57.8 154.7 58.2 151.9 58.5 149.2 58.9 146.5 59.2 143.9 59.6 141.2 60.0 138.5 60.4 135.9 60.9 133.3 61.3 130.7 61.8 128.1 62.2 125.5 62.7 123.0 63.2 120.4 63.7 117.9 64.2 115.4 64.8 113.0 65.3 110.6 65.8 108.2 66.4 105.8 66.9 103.4 67.5 101.1 68.1 98.9 68.7 96.6 69.2 94.4 69.8 92.2 70.4 90.1 71.0 88.0 71.7 85.9 72.3 83.9 72.9 81.9 73.5 80.0 74.2 78.1 74.8 76.2 75.5 74.4 76.1 72.7 76.8 71.0 77.5 69.3 78.1 67.7 78.8 66.1 79.5 64.6 80.2 63.2 80.9 61.7 81.6 60.4 82.4 59.1 83.1 57.8 83.8 56.6 84.6 55.5 85.3 54.4 86.1 53.4 86.9 52.4 87.6 51.5 88.4 50.6 89.2 49.8 90.0 49.0 90.8 48.3 91.7 47.7 92.5 47.1 93.4 46.6 94.2 46.1 95.1 45.7 96.0 45.3 96.9 45.0 97.8 44.8 98.7 44.6 99.6 44.4 100.5 44.3 101.5 44.3 102.4 44.3 103.4 44.4 104.4 44.5 105.4 44.7 106.4 44.9 107.4 45.2 108.4 45.5 109.4 45.9 110.4 46.3 111.5 46.8 112.5 47.3 113.6 47.9 114.6 48.5 115.7 49.2 116.8 49.9 117.9 50.7 118.9 51.5 120.0 52.3 121.1 53.2 122.2 54.2 123.3 55.2 124.4 56.2 125.5 57.3 126.6 58.4 127.7 59.6 128.8 60.8 129.9 62.0 131.0 63.3 132.1 64.7 133.2 66.0 134.3 67.4 135.4 68.9 136.5 70.4 137.6 71.9 138.6 73.5 139.7 75.1 140.7 76.8 141.8 78.5 142.8 80.2 143.8 82.0 144.9 83.8 145.9 85.6 146.8 87.5 147.8 89.4 148.8 91.4 149.7 93.3 150.7 95.4 151.6 97.4 152.5 99.5 153.4 101.6 154.3 103.8 155.1 106.0 155.9 108.2 156.8 110.5 157.5 112.7 158.3 115.0 159.1 117.4 159.8 119.8 160.5 122.2 161.2 124.6 161.9 127.0 162.5 129.5 163.2 132.0 163.8 134.5 164.3 137.1 164.9 139.7 165.4 142.2 165.9 144.9 166.4 147.5 166.8 150.1 167.2 152.8 167.6 155.5 168.0 158.2 168.3 160.9 168.6 163.6 168.9 166.3 169.2 169.1 169.4 171.8 169.6 174.6 169.8 177.3 169.9 180.1 170.0 182.9 170.1 185.6 170.2 188.4 170.2 191.2 170.2 194.0 170.1 196.7 170.1 199.5 170.0 202.3 169.9 205.0" stroke="#8e3f9e" stroke-width="1.45"/>
<path d="M55.8 184.5L55.6 192L55.4 199.5" stroke="#1414ff" stroke-width="1.25"/>
</g>
<rect x="245.3" y="5" width="101" height="46.5" fill="#fff" stroke="#555" stroke-width="1"/>
<path d="M248 13.3h21.5" stroke="#008000" stroke-width="1.6"/>
<path d="M248 28.5h21.5" stroke="#ff44ff" stroke-width="1"/>
<path d="M248 43.6h21.5" stroke="#0000ff" stroke-width="1.6"/>
<g font-family="Liberation Sans, sans-serif" font-size="8.55" fill="#222"><text x="271.5" y="16.4">Phasing Trajectory</text><text x="271.5" y="31.5">Arrival Manifold</text><text x="271.5" y="46.6">Departure Orbit</text></g>
<text x="317.6" y="64.4" font-family="Liberation Serif, serif" font-size="9.5" fill="#222" textLength="166" lengthAdjust="spacingAndGlyphs">Phasing Trajectory Distance from Manifold</text>
<rect x="266.3" y="69.1" width="268.40000000000003" height="217.1" fill="none" stroke="#b0b0b0" stroke-width="1.15"/>
<path d="M266.3 286.2v-2M266.3 69.1v2M304.6 286.2v-2M304.6 69.1v2M343.0 286.2v-2M343.0 69.1v2M381.3 286.2v-2M381.3 69.1v2M419.7 286.2v-2M419.7 69.1v2M458.0 286.2v-2M458.0 69.1v2M496.4 286.2v-2M496.4 69.1v2M534.7 286.2v-2M534.7 69.1v2M266.3 286.2h2M534.7 286.2h-2M266.3 262.1h2M534.7 262.1h-2M266.3 238.0h2M534.7 238.0h-2M266.3 213.8h2M534.7 213.8h-2M266.3 189.7h2M534.7 189.7h-2M266.3 165.6h2M534.7 165.6h-2M266.3 141.5h2M534.7 141.5h-2M266.3 117.3h2M534.7 117.3h-2M266.3 93.2h2M534.7 93.2h-2M266.3 69.1h2M534.7 69.1h-2" stroke="#aaa" stroke-width="0.8" fill="none"/>
<g font-family="Liberation Sans, sans-serif" font-size="4.2" fill="#606060"><text x="266.3" y="292.9" text-anchor="middle">0</text><text x="304.6" y="292.9" text-anchor="middle">5</text><text x="343.0" y="292.9" text-anchor="middle">10</text><text x="381.3" y="292.9" text-anchor="middle">15</text><text x="419.7" y="292.9" text-anchor="middle">20</text><text x="458.0" y="292.9" text-anchor="middle">25</text><text x="496.4" y="292.9" text-anchor="middle">30</text><text x="534.7" y="292.9" text-anchor="middle">35</text><text x="262.2" y="288.8" font-size="5" textLength="2.12" lengthAdjust="spacingAndGlyphs">0</text><text x="257.9" y="264.7" font-size="5" textLength="6.36" lengthAdjust="spacingAndGlyphs">200</text><text x="257.9" y="240.6" font-size="5" textLength="6.36" lengthAdjust="spacingAndGlyphs">400</text><text x="257.9" y="216.4" font-size="5" textLength="6.36" lengthAdjust="spacingAndGlyphs">600</text><text x="257.9" y="192.3" font-size="5" textLength="6.36" lengthAdjust="spacingAndGlyphs">800</text><text x="255.8" y="168.2" font-size="5" textLength="8.48" lengthAdjust="spacingAndGlyphs">1000</text><text x="255.8" y="144.1" font-size="5" textLength="8.48" lengthAdjust="spacingAndGlyphs">1200</text><text x="255.8" y="119.9" font-size="5" textLength="8.48" lengthAdjust="spacingAndGlyphs">1400</text><text x="255.8" y="95.8" font-size="5" textLength="8.48" lengthAdjust="spacingAndGlyphs">1600</text><text x="255.8" y="71.7" font-size="5" textLength="8.48" lengthAdjust="spacingAndGlyphs">1800</text></g>
<text x="400.5" y="301.2" font-family="Liberation Serif, serif" font-style="italic" font-size="7.5" fill="#333" text-anchor="middle">Time[day]</text>
<text transform="translate(252.8 178.5) rotate(-90)" font-family="Liberation Serif, serif" font-style="italic" font-size="7.45" fill="#5a5a5a" text-anchor="middle">Distance[km]</text>
<path d="M261 274.6H543.5" stroke="#3a3a3a" stroke-width="0.95" stroke-dasharray="2.2 1.7"/>
<text x="412.4" y="268.7" font-family="Liberation Sans, sans-serif" font-weight="bold" font-size="8.54" fill="#222" textLength="130.3" lengthAdjust="spacingAndGlyphs">Minimum Distance Requirement</text>
<path d="M266.3 283.6 275.0 283.8 287.7 284.0 289.4 282.0 290.2 279.5 290.7 278.7 291.3 279.8 292.0 281.7 294.0 282.5 300.0 282.2 310.0 281.0 325.0 279.2 335.6 277.2 338.4 275.8 339.8 273.0 340.7 266.5 341.2 256.2 341.7 251.1 342.1 259.0 342.6 266.5 343.6 270.2 345.9 272.1 350.6 272.9 360.0 272.9 375.0 272.3 388.9 271.6 390.3 270.2 391.0 263.7 391.7 252.0 392.3 261.8 393.6 266.0 396.8 264.6 402.4 261.8 410.0 258.6 420.0 255.0 425.0 252.8 431.4 249.6 436.2 244.8 438.6 238.3 439.9 227.1 440.7 211.0 441.5 180.0 442.1 150.0 442.4 131.0 442.7 150.0 443.1 211.0 443.9 220.7 445.5 225.5 448.3 227.9 452.3 228.2 458.7 225.5 465.0 222.6 475.0 217.3 481.0 213.3 487.0 211.3 489.1 209.3 490.1 203.2 491.1 185.2 491.7 165.0 492.2 120.0 492.6 80.0 493.0 120.0 493.5 171.1 494.5 179.1 495.7 181.5 497.1 180.1 517.2 152.6" fill="none" stroke="#f23030" stroke-width="1.4" stroke-linejoin="round"/>
<path d="M178.5 190L268 331.3M188 192.5L264.5 308.3" stroke="#505050" stroke-width="1.15" stroke-dasharray="2 1.7" fill="none"/>
<path d="M266.7 310.5L261.8 307.8L266.1 304.9Z" fill="#111"/><path d="M269.9 333.5L265.0 330.7L269.4 327.9Z" fill="#111"/>
<text x="272" y="313.4" font-family="Liberation Sans, sans-serif" font-weight="bold" font-size="8.27" fill="#2a9a2a">Phasing Trajectory</text>
<text x="273.6" y="335" font-family="Liberation Sans, sans-serif" font-weight="bold" font-size="8.85" fill="#ff4aff">Manifold</text>
</svg>
</body></html>
